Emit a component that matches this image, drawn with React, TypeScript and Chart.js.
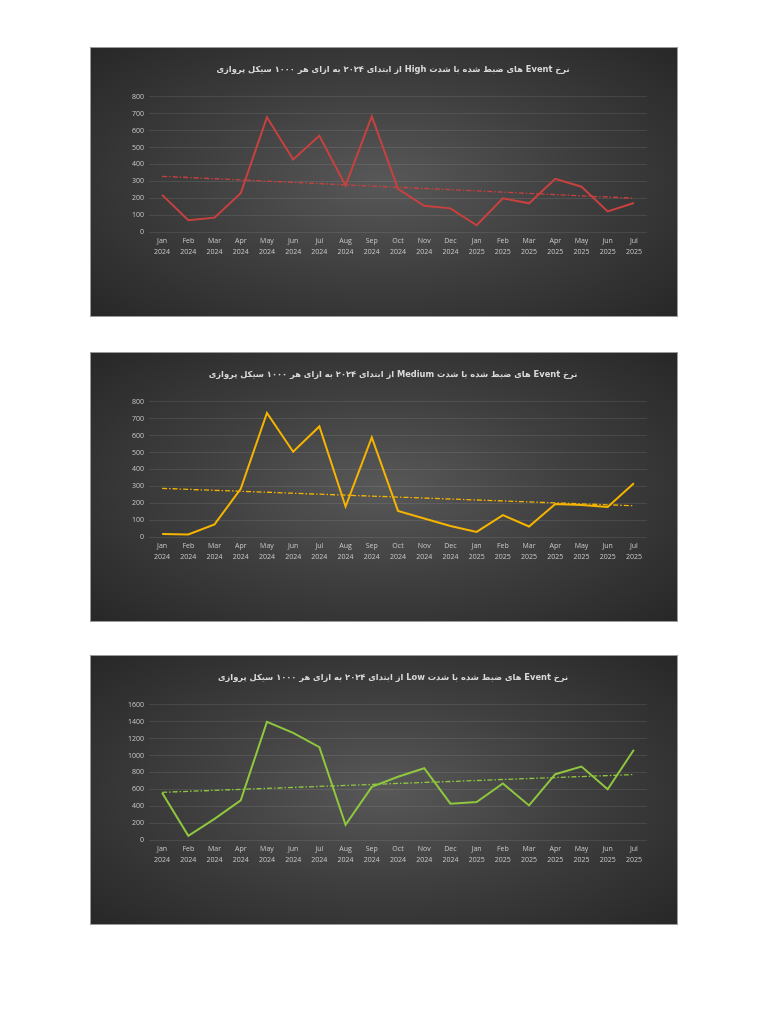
import React, { useEffect, useRef } from "react";
import { Chart, registerables } from "chart.js";

Chart.register(...registerables);

const months = ["Jan", "Feb", "Mar", "Apr", "May", "Jun", "Jul", "Aug", "Sep", "Oct", "Nov", "Dec", "Jan", "Feb", "Mar", "Apr", "May", "Jun", "Jul"];
const years = ["2024", "2024", "2024", "2024", "2024", "2024", "2024", "2024", "2024", "2024", "2024", "2024", "2025", "2025", "2025", "2025", "2025", "2025", "2025"];

const highValues = [220, 70, 85, 230, 680, 430, 570, 275, 685, 255, 155, 140, 40, 200, 170, 315, 268, 122, 172];
const highTrend = [330, 200];
const mediumValues = [18, 15, 75, 285, 735, 505, 655, 180, 590, 155, 110, 65, 30, 130, 62, 195, 190, 178, 318];
const mediumTrend = [288, 185];
const lowValues = [560, 50, 250, 470, 1400, 1270, 1100, 180, 630, 750, 850, 430, 450, 670, 410, 780, 870, 600, 1070];
const lowTrend = [565, 775];

const highTitle = "نرخ Event های ضبط شده با شدت High از ابتدای ۲۰۲۴ به ازای هر ۱۰۰۰ سیکل پروازی";
const mediumTitle = "نرخ Event های ضبط شده با شدت Medium از ابتدای ۲۰۲۴ به ازای هر ۱۰۰۰ سیکل پروازی";
const lowTitle = "نرخ Event های ضبط شده با شدت Low از ابتدای ۲۰۲۴ به ازای هر ۱۰۰۰ سیکل پروازی";

type Props = {
  top: number;
  title: string;
  values: number[];
  trend: number[];
  color: string;
  max: number;
  step: number;
};

function trendSeries(trend: number[], n: number) {
  const arr: (number | null)[] = new Array(n).fill(null);
  arr[0] = trend[0];
  arr[n - 1] = trend[1];
  return arr;
}

function LineChart({ top, title, values, trend, color, max, step }: Props) {
  const ref = useRef<HTMLCanvasElement | null>(null);
  useEffect(() => {
    if (!ref.current) return;
    const labels = months.map((m, i) => [m, years[i]]);
    const chart = new Chart(ref.current, {
      type: "line",
      data: {
        labels,
        datasets: [
          {
            data: trendSeries(trend, values.length),
            yAxisID: "y",
            borderColor: color,
            borderWidth: 1.3,
            borderDash: [5, 2, 1.5, 2],
            pointRadius: 0,
            spanGaps: true,
            fill: false,
            tension: 0,
          },
          {
            data: values,
            yAxisID: "y",
            borderColor: color,
            borderWidth: 2,
            pointRadius: 0,
            fill: false,
            tension: 0,
          },
        ],
      },
      options: {
        animation: false,
        responsive: false,
        maintainAspectRatio: false,
        layout: { padding: { left: 18, right: 0, top: 0, bottom: 50 } },
        plugins: {
          legend: { display: false },
          tooltip: { enabled: false },
          title: {
            display: true,
            text: "\u202B" + title + "\u202C",
            color: "#d9d9d9",
            font: { family: "'DejaVu Sans', sans-serif", size: 8.3, weight: "bold" },
            padding: { top: 17, bottom: 22 },
          },
        },
        scales: {
          x: {
            offset: true,
            grid: { display: false, drawTicks: false },
            border: { display: false },
            ticks: {
              color: "#c8c8c8",
              font: { family: "'Open Sans', sans-serif", size: 7, lineHeight: 1.5 },
              padding: 4,
              maxRotation: 0,
              autoSkip: false,
            },
            afterFit: (s: any) => {
              s.height = 34;
            },
          },
          y: {
            position: "left",
            min: 0,
            max,
            grid: { color: "rgba(255,255,255,0.09)", lineWidth: 1, drawTicks: false },
            border: { display: false },
            ticks: {
              stepSize: step,
              color: "#c8c8c8",
              font: { family: "'Open Sans', sans-serif", size: 7 },
              padding: 5,
              callback: (v: any) => String(v),
            },
            afterFit: (s: any) => {
              s.width = 40;
            },
          },
          yRight: {
            type: "linear",
            position: "right",
            display: true,
            min: 0,
            max,
            grid: { display: false, drawTicks: false },
            border: { display: false },
            ticks: { display: false },
            afterFit: (s: any) => {
              s.width = 30;
            },
          },
        },
      },
    });
    return () => chart.destroy();
  }, [title, values, trend, color, max, step]);

  return (
    <div
      style={{
        position: "absolute",
        left: 90,
        top,
        width: 588,
        height: 270,
        boxSizing: "border-box",
        border: "1px solid #9a9a9a",
        background: "radial-gradient(ellipse 75% 80% at 50% 50%, #585858 0%, #3e3e3e 45%, #232323 100%)",
      }}
    >
      <canvas
        ref={ref}
        width={586}
        height={268}
        style={{ display: "block" }}
      />
    </div>
  );
}

export default function App() {
  return (
    <div style={{ position: "absolute", left: 0, top: 0, width: 768, height: 1024, background: "#ffffff" }}>
      <LineChart top={47} title={highTitle} values={highValues} trend={highTrend} color="#c9413f" max={800} step={100} />
      <LineChart top={352} title={mediumTitle} values={mediumValues} trend={mediumTrend} color="#f5b400" max={800} step={100} />
      <LineChart top={655} title={lowTitle} values={lowValues} trend={lowTrend} color="#8fc73e" max={1600} step={200} />
    </div>
  );
}
